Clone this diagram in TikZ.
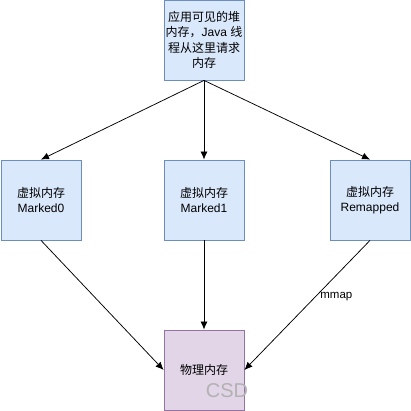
\documentclass[tikz,border=0pt]{standalone}
\usepackage{fontspec}
\usetikzlibrary{arrows.meta}
\setmainfont{Liberation Sans}
\newfontfamily\cjk{Noto Sans CJK SC}
\begin{document}
\begin{tikzpicture}[x=1pt,y=-1pt,
  box/.style={line width=0.8pt,minimum width=80pt,minimum height=80pt,inner sep=0pt,align=center,font=\fontsize{12}{15.5}\selectfont},
  vbox/.style={box,fill={rgb,255:red,218;green,232;blue,252},draw={rgb,255:red,108;green,142;blue,191}},
  pbox/.style={box,fill={rgb,255:red,225;green,213;blue,231},draw={rgb,255:red,150;green,115;blue,166}},
  link/.style={-{Latex[length=8pt,width=7pt]},line width=0.75pt}]
\useasboundingbox (0,0) rectangle (411,411);
\node[vbox](heap) at (204,40){{\cjk 应用可见的堆}\\{\cjk 内存，}Java {\cjk 线}\\{\cjk 程从这里请求}\\{\cjk 内存}};
\node[vbox](m0) at (41,200){{\cjk 虚拟内存}\\Marked0};
\node[vbox](m1) at (204,200){{\cjk 虚拟内存}\\Marked1};
\node[vbox](remap) at (370,200){{\cjk 虚拟内存}\\Remapped};
\node[pbox](phys) at (204,370){{\cjk 物理内存}};
\node[text=gray!60,font=\fontsize{20}{20}\selectfont](mark) at (227,391){CSD};
\draw[link](heap.south)--(m0.north);
\draw[link](heap.south)--(m1.north);
\draw[link](heap.south)--(remap.north);
\draw[link](m0.south)--(phys.west);
\draw[link](m1.south)--(phys.north);
\draw[link](remap.south)--node[pos=0.43,anchor=west,font=\fontsize{11.5}{13}\selectfont,inner sep=4pt]{mmap}(phys.east);
\end{tikzpicture}
\end{document}
